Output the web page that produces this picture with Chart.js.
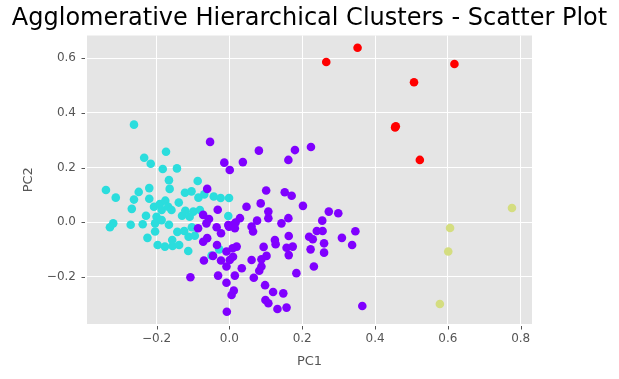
<!DOCTYPE html>
<html><head><meta charset="utf-8">
<script src="https://cdn.jsdelivr.net/npm/chart.js@4/dist/chart.umd.min.js"></script>
<style>html,body{margin:0;padding:0;background:#fff;} #wrap{width:619px;height:379px;}</style>
</head><body><div id="wrap"><canvas id="c" width="619" height="379"></canvas></div>
<script>
const chartTitle = 'Agglomerative Hierarchical Clusters - Scatter Plot';
const xAxisTitle = 'PC1';
const yAxisTitle = 'PC2';

const cluster0X = [-0.053,-0.014,0.001,0.037,-0.061,0.047,-0.032,-0.072,-0.056,-0.063,-0.086,-0.035,-0.023,-0.003,0.017,0.029,0.015,-0.072,-0.061,-0.034,-0.008,0.020,0.010,-0.023,-0.070,-0.008,0.034,0.081,0.180,0.224,0.162,0.101,0.152,0.171,0.086,0.107,0.107,0.202,0.273,0.299,0.255,0.162,0.143,0.076,0.061,0.065,-0.001,0.240,0.256,0.346,0.309,0.337,0.219,0.229,0.260,0.260,0.223,0.163,0.125,0.127,0.157,0.174,0.163,0.094,0.009,0.001,-0.045,0.061,0.088,0.102,0.088,0.015,-0.031,0.082,0.067,0.184,0.232,-0.107,-0.008,0.006,0.012,0.098,0.120,0.148,0.099,0.107,0.132,0.157,-0.007,0.365,0.010];
const cluster0Y = [0.294,0.218,0.191,0.220,0.122,0.057,0.046,0.027,0.012,-0.004,-0.022,-0.018,-0.040,-0.010,-0.001,0.015,-0.022,-0.071,-0.058,-0.083,-0.107,-0.089,-0.126,-0.140,-0.140,-0.162,-0.168,0.262,0.264,0.275,0.228,0.116,0.110,0.097,0.069,0.039,0.015,0.060,0.039,0.033,0.006,0.015,-0.004,0.006,-0.016,-0.034,-0.016,-0.032,-0.032,-0.033,-0.057,-0.083,-0.053,-0.062,-0.077,-0.111,-0.099,-0.050,-0.065,-0.080,-0.093,-0.089,-0.120,-0.090,-0.095,-0.138,-0.123,-0.138,-0.135,-0.123,-0.162,-0.195,-0.195,-0.177,-0.203,-0.186,-0.162,-0.201,-0.221,-0.266,-0.250,-0.230,-0.255,-0.260,-0.284,-0.296,-0.317,-0.312,-0.327,-0.306,-0.010];

const cluster1X = [-0.262,-0.174,-0.234,-0.216,-0.183,-0.144,-0.166,-0.164,-0.087,-0.339,-0.312,-0.249,-0.262,-0.220,-0.220,-0.268,-0.319,-0.328,-0.271,-0.238,-0.229,-0.207,-0.191,-0.176,-0.186,-0.200,-0.204,-0.204,-0.225,-0.197,-0.177,-0.156,-0.138,-0.113,-0.157,-0.143,-0.166,-0.124,-0.112,-0.103,-0.130,-0.121,-0.139,-0.122,-0.104,-0.085,-0.069,-0.043,-0.024,-0.001,-0.099,-0.095,-0.003,-0.028,-0.049,-0.168,-0.159,-0.109,-0.081,-0.186];
const cluster1Y = [0.357,0.258,0.236,0.214,0.195,0.197,0.154,0.122,0.151,0.118,0.090,0.111,0.083,0.125,0.086,0.049,-0.004,-0.018,-0.009,-0.007,0.024,0.057,0.067,0.079,0.045,0.020,-0.004,-0.034,-0.057,-0.083,-0.089,-0.087,-0.083,-0.105,-0.065,-0.035,-0.009,-0.032,-0.053,-0.018,0.024,0.042,0.072,0.108,0.113,0.090,0.102,0.094,0.089,0.089,0.039,-0.049,0.023,-0.099,-0.122,0.057,0.045,0.020,0.045,0.008];

const cluster2X = [0.776,0.606,0.601,0.578];
const cluster2Y = [0.052,-0.021,-0.107,-0.299];

const cluster3X = [0.352,0.266,0.618,0.507,0.457,0.455,0.523];
const cluster3Y = [0.638,0.586,0.579,0.512,0.351,0.347,0.228];

const xTickValues = [-0.2,0.0,0.2,0.4,0.6,0.8];
const xTickLabels = ['\u22120.2','0.0','0.2','0.4','0.6','0.8'];
const yTickValues = [-0.2,0.0,0.2,0.4,0.6];
const yTickLabels = ['\u22120.2','0.0','0.2','0.4','0.6'];

const toPts = (xs, ys) => xs.map((x, i) => ({x: x, y: ys[i]}));

const bgPlugin = {
  id: 'ggbg',
  beforeDraw(chart) {
    const {ctx, chartArea: a} = chart;
    ctx.save();
    ctx.fillStyle = '#e5e5e5';
    ctx.fillRect(a.left, a.top, a.right - a.left, a.bottom - a.top);
    ctx.restore();
  },
  afterDraw(chart) {
    const {ctx, chartArea: a} = chart;
    const xs = chart.scales.x, ys = chart.scales.y;
    ctx.save();
    ctx.strokeStyle = '#555555';
    ctx.lineWidth = 1;
    ctx.beginPath();
    xTickValues.forEach(v => {
      const px = Math.round(xs.getPixelForValue(v)) + 0.5;
      ctx.moveTo(px, a.bottom + 2); ctx.lineTo(px, a.bottom + 5.5);
    });
    yTickValues.forEach(v => {
      const py = Math.round(ys.getPixelForValue(v)) + 0.5;
      ctx.moveTo(a.left - 2, py); ctx.lineTo(a.left - 5.5, py);
    });
    ctx.stroke();
    ctx.restore();
  }
};

const fontFam = "'DejaVu Sans', sans-serif";

new Chart(document.getElementById('c'), {
  type: 'scatter',
  data: {
    datasets: [
      {label: 'Cluster 0', data: toPts(cluster0X, cluster0Y), backgroundColor: '#8000ff'},
      {label: 'Cluster 1', data: toPts(cluster1X, cluster1Y), backgroundColor: '#2bdddd'},
      {label: 'Cluster 2', data: toPts(cluster2X, cluster2Y), backgroundColor: '#d4dd80'},
      {label: 'Cluster 3', data: toPts(cluster3X, cluster3Y), backgroundColor: '#ff0000'}
    ]
  },
  options: {
    responsive: false,
    animation: false,
    devicePixelRatio: 1,
    layout: {padding: 0},
    elements: {point: {radius: 4.3, borderWidth: 0, hoverRadius: 4.3}},
    plugins: {
      legend: {display: false},
      tooltip: {enabled: false},
      title: {
        display: true, text: chartTitle, color: '#000000',
        font: {family: fontFam, size: 24, weight: 'normal'},
        padding: {top: 4.5, bottom: 2.2}
      }
    },
    scales: {
      x: {
        type: 'linear', min: -0.391, max: 0.831,
        afterBuildTicks(s) { s.ticks = xTickValues.map(v => ({value: v})); },
        afterFit(s) { s.height = 55; },
        ticks: {
          color: '#555555', font: {family: fontFam, size: 12}, padding: 8,
          maxRotation: 0, autoSkip: false,
          callback: (v) => { const i = xTickValues.findIndex(t => Math.abs(t - v) < 1e-9); return i >= 0 ? xTickLabels[i] : ''; }
        },
        grid: {color: '#ffffff', lineWidth: 1, drawTicks: false},
        border: {display: false},
        title: {display: true, text: xAxisTitle, color: '#555555', font: {family: fontFam, size: 13}, padding: {top: 0, bottom: 10}}
      },
      y: {
        type: 'linear', min: -0.372, max: 0.683,
        afterBuildTicks(s) { s.ticks = yTickValues.map(v => ({value: v})); },
        afterFit(s) { s.width = 87; },
        ticks: {
          color: '#555555', font: {family: fontFam, size: 12}, padding: 11,
          autoSkip: false,
          callback: (v) => { const i = yTickValues.findIndex(t => Math.abs(t - v) < 1e-9); return i >= 0 ? yTickLabels[i] : ''; }
        },
        grid: {color: '#ffffff', lineWidth: 1, drawTicks: false},
        border: {display: false},
        title: {display: true, text: yAxisTitle, color: '#555555', font: {family: fontFam, size: 13}, padding: {top: 21, bottom: 0}}
      },
      spacer: {
        type: 'linear', position: 'right', display: true, min: 0, max: 1,
        afterFit(s) { s.width = 87; },
        ticks: {display: false},
        grid: {display: false, drawOnChartArea: false},
        border: {display: false}
      }
    }
  },
  plugins: [bgPlugin]
});
</script>
</body></html>
